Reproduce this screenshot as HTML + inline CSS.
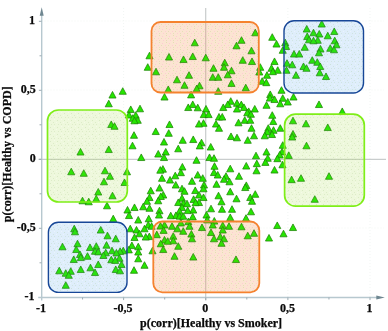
<!DOCTYPE html><html><head><meta charset="utf-8"><title>plot</title><style>html,body{margin:0;padding:0;background:#fff}svg{display:block}</style></head><body><svg width="388" height="331" viewBox="0 0 388 331">
<rect width="388" height="331" fill="#fff"/>
<defs><pattern id="dz" width="7" height="7" patternUnits="userSpaceOnUse"><rect x="1" y="1" width="1" height="1" fill="#ff9fe0" opacity="0.35"/><rect x="4" y="3" width="1" height="1" fill="#ff9fe0" opacity="0.3"/><rect x="2" y="5" width="1" height="1" fill="#ff9fe0" opacity="0.3"/><rect x="5" y="0" width="1" height="1" fill="#b8e08a" opacity="0.4"/><rect x="0" y="3" width="1" height="1" fill="#b8e08a" opacity="0.35"/><rect x="5" y="5" width="1" height="1" fill="#b8e08a" opacity="0.35"/></pattern><pattern id="dg" width="7" height="7" patternUnits="userSpaceOnUse"><rect x="1" y="1" width="1" height="1" fill="#a8c890" opacity="0.3"/><rect x="4" y="3" width="1" height="1" fill="#a8c890" opacity="0.25"/><rect x="2" y="5" width="1" height="1" fill="#a8c890" opacity="0.25"/><rect x="5" y="0" width="1" height="1" fill="#ffffff" opacity="0.5"/><rect x="0" y="3" width="1" height="1" fill="#ffffff" opacity="0.5"/><rect x="5" y="5" width="1" height="1" fill="#a8c890" opacity="0.25"/></pattern></defs>
<line x1="123.62" y1="8" x2="123.62" y2="297.0" stroke="#f1f5f3" stroke-width="1" stroke-dasharray="1 2"/>
<line x1="287.88" y1="8" x2="287.88" y2="297.0" stroke="#f1f5f3" stroke-width="1" stroke-dasharray="1 2"/>
<line x1="370.00" y1="8" x2="370.00" y2="297.0" stroke="#f1f5f3" stroke-width="1" stroke-dasharray="1 2"/>
<line x1="41.5" y1="228.00" x2="384" y2="228.00" stroke="#f1f5f3" stroke-width="1" stroke-dasharray="1 2"/>
<line x1="41.5" y1="90.00" x2="384" y2="90.00" stroke="#f1f5f3" stroke-width="1" stroke-dasharray="1 2"/>
<line x1="41.5" y1="21.00" x2="384" y2="21.00" stroke="#f1f5f3" stroke-width="1" stroke-dasharray="1 2"/>
<line x1="205.75" y1="8" x2="205.75" y2="300.5" stroke="#bcc1c1" stroke-width="1"/>
<line x1="38.5" y1="159.30" x2="386" y2="159.30" stroke="#bcc1c1" stroke-width="1"/>
<line x1="41.7" y1="14" x2="41.7" y2="300.5" stroke="#b7c8cf" stroke-width="1.4"/>
<line x1="38.2" y1="297.5" x2="378" y2="297.5" stroke="#b7c8cf" stroke-width="1.4"/>
<polygon points="41.7,7.3 39.7,15.8 43.7,15.8" fill="#6f8791"/>
<polygon points="384.8,297.5 376.3,295.5 376.3,299.5" fill="#6f8791"/>
<line x1="82.56" y1="297.5" x2="82.56" y2="299.5" stroke="#93a3aa" stroke-width="0.9"/>
<line x1="39.5" y1="262.80" x2="41.5" y2="262.80" stroke="#93a3aa" stroke-width="0.9"/>
<line x1="123.62" y1="297.5" x2="123.62" y2="300.1" stroke="#93a3aa" stroke-width="0.9"/>
<line x1="38.9" y1="228.30" x2="41.5" y2="228.30" stroke="#93a3aa" stroke-width="0.9"/>
<line x1="164.69" y1="297.5" x2="164.69" y2="299.5" stroke="#93a3aa" stroke-width="0.9"/>
<line x1="39.5" y1="193.80" x2="41.5" y2="193.80" stroke="#93a3aa" stroke-width="0.9"/>
<line x1="205.75" y1="297.5" x2="205.75" y2="300.1" stroke="#93a3aa" stroke-width="0.9"/>
<line x1="38.9" y1="159.30" x2="41.5" y2="159.30" stroke="#93a3aa" stroke-width="0.9"/>
<line x1="246.81" y1="297.5" x2="246.81" y2="299.5" stroke="#93a3aa" stroke-width="0.9"/>
<line x1="39.5" y1="124.80" x2="41.5" y2="124.80" stroke="#93a3aa" stroke-width="0.9"/>
<line x1="287.88" y1="297.5" x2="287.88" y2="300.1" stroke="#93a3aa" stroke-width="0.9"/>
<line x1="38.9" y1="90.30" x2="41.5" y2="90.30" stroke="#93a3aa" stroke-width="0.9"/>
<line x1="328.94" y1="297.5" x2="328.94" y2="299.5" stroke="#93a3aa" stroke-width="0.9"/>
<line x1="39.5" y1="55.80" x2="41.5" y2="55.80" stroke="#93a3aa" stroke-width="0.9"/>
<line x1="370.00" y1="297.5" x2="370.00" y2="300.1" stroke="#93a3aa" stroke-width="0.9"/>
<line x1="38.9" y1="21.30" x2="41.5" y2="21.30" stroke="#93a3aa" stroke-width="0.9"/>
<rect x="151.5" y="22" width="107.30" height="70.50" rx="9" ry="9" fill="rgba(245,135,62,0.17)"/>
<rect x="151.5" y="22" width="107.30" height="70.50" rx="9" ry="9" fill="url(#dz)"/>
<rect x="153.3" y="221.5" width="106.00" height="70.80" rx="9" ry="9" fill="rgba(245,135,62,0.17)"/>
<rect x="153.3" y="221.5" width="106.00" height="70.80" rx="9" ry="9" fill="url(#dz)"/>
<rect x="284" y="20.8" width="79.50" height="72.20" rx="10" ry="10" fill="rgba(120,185,240,0.17)"/>
<rect x="284" y="20.8" width="79.50" height="72.20" rx="10" ry="10" fill="url(#dg)"/>
<rect x="48.4" y="222.3" width="78.60" height="70.10" rx="10" ry="10" fill="rgba(120,185,240,0.17)"/>
<rect x="48.4" y="222.3" width="78.60" height="70.10" rx="10" ry="10" fill="url(#dg)"/>
<rect x="47.5" y="110" width="79.80" height="92.00" rx="11" ry="11" fill="rgba(185,225,105,0.17)"/>
<rect x="47.5" y="110" width="79.80" height="92.00" rx="11" ry="11" fill="url(#dg)"/>
<rect x="284.6" y="114.1" width="79.70" height="92.10" rx="11" ry="11" fill="rgba(185,225,105,0.17)"/>
<rect x="284.6" y="114.1" width="79.70" height="92.10" rx="11" ry="11" fill="url(#dg)"/>
<polygon points="321.75,20.45 318.20,27.05 325.30,27.05" fill="#25e600" stroke="#1d8406" stroke-width="0.75" stroke-linejoin="round"/>
<polygon points="306.75,25.45 303.20,32.05 310.30,32.05" fill="#25e600" stroke="#1d8406" stroke-width="0.75" stroke-linejoin="round"/>
<polygon points="334.25,27.95 330.70,34.55 337.80,34.55" fill="#25e600" stroke="#1d8406" stroke-width="0.75" stroke-linejoin="round"/>
<polygon points="255.25,29.20 251.70,35.80 258.80,35.80" fill="#25e600" stroke="#1d8406" stroke-width="0.75" stroke-linejoin="round"/>
<polygon points="313.50,29.20 309.95,35.80 317.05,35.80" fill="#25e600" stroke="#1d8406" stroke-width="0.75" stroke-linejoin="round"/>
<polygon points="319.25,30.45 315.70,37.05 322.80,37.05" fill="#25e600" stroke="#1d8406" stroke-width="0.75" stroke-linejoin="round"/>
<polygon points="327.75,32.20 324.20,38.80 331.30,38.80" fill="#25e600" stroke="#1d8406" stroke-width="0.75" stroke-linejoin="round"/>
<polygon points="307.25,32.95 303.70,39.55 310.80,39.55" fill="#25e600" stroke="#1d8406" stroke-width="0.75" stroke-linejoin="round"/>
<polygon points="272.25,33.70 268.70,40.30 275.80,40.30" fill="#25e600" stroke="#1d8406" stroke-width="0.75" stroke-linejoin="round"/>
<polygon points="309.00,36.20 305.45,42.80 312.55,42.80" fill="#25e600" stroke="#1d8406" stroke-width="0.75" stroke-linejoin="round"/>
<polygon points="241.50,36.70 237.95,43.30 245.05,43.30" fill="#25e600" stroke="#1d8406" stroke-width="0.75" stroke-linejoin="round"/>
<polygon points="317.75,36.70 314.20,43.30 321.30,43.30" fill="#25e600" stroke="#1d8406" stroke-width="0.75" stroke-linejoin="round"/>
<polygon points="313.50,37.20 309.95,43.80 317.05,43.80" fill="#25e600" stroke="#1d8406" stroke-width="0.75" stroke-linejoin="round"/>
<polygon points="334.75,37.20 331.20,43.80 338.30,43.80" fill="#25e600" stroke="#1d8406" stroke-width="0.75" stroke-linejoin="round"/>
<polygon points="194.75,39.20 191.20,45.80 198.30,45.80" fill="#25e600" stroke="#1d8406" stroke-width="0.75" stroke-linejoin="round"/>
<polygon points="285.25,39.20 281.70,45.80 288.80,45.80" fill="#25e600" stroke="#1d8406" stroke-width="0.75" stroke-linejoin="round"/>
<polygon points="276.50,40.45 272.95,47.05 280.05,47.05" fill="#25e600" stroke="#1d8406" stroke-width="0.75" stroke-linejoin="round"/>
<polygon points="336.50,41.20 332.95,47.80 340.05,47.80" fill="#25e600" stroke="#1d8406" stroke-width="0.75" stroke-linejoin="round"/>
<polygon points="236.50,42.20 232.95,48.80 240.05,48.80" fill="#25e600" stroke="#1d8406" stroke-width="0.75" stroke-linejoin="round"/>
<polygon points="286.10,42.90 282.55,49.50 289.65,49.50" fill="#25e600" stroke="#1d8406" stroke-width="0.75" stroke-linejoin="round"/>
<polygon points="304.75,43.70 301.20,50.30 308.30,50.30" fill="#25e600" stroke="#1d8406" stroke-width="0.75" stroke-linejoin="round"/>
<polygon points="330.25,44.70 326.70,51.30 333.80,51.30" fill="#25e600" stroke="#1d8406" stroke-width="0.75" stroke-linejoin="round"/>
<polygon points="320.50,45.45 316.95,52.05 324.05,52.05" fill="#25e600" stroke="#1d8406" stroke-width="0.75" stroke-linejoin="round"/>
<polygon points="334.00,46.20 330.45,52.80 337.55,52.80" fill="#25e600" stroke="#1d8406" stroke-width="0.75" stroke-linejoin="round"/>
<polygon points="282.75,46.70 279.20,53.30 286.30,53.30" fill="#25e600" stroke="#1d8406" stroke-width="0.75" stroke-linejoin="round"/>
<polygon points="251.50,47.20 247.95,53.80 255.05,53.80" fill="#25e600" stroke="#1d8406" stroke-width="0.75" stroke-linejoin="round"/>
<polygon points="319.00,49.20 315.45,55.80 322.55,55.80" fill="#25e600" stroke="#1d8406" stroke-width="0.75" stroke-linejoin="round"/>
<polygon points="294.00,50.45 290.45,57.05 297.55,57.05" fill="#25e600" stroke="#1d8406" stroke-width="0.75" stroke-linejoin="round"/>
<polygon points="299.25,50.45 295.70,57.05 302.80,57.05" fill="#25e600" stroke="#1d8406" stroke-width="0.75" stroke-linejoin="round"/>
<polygon points="149.50,52.20 145.95,58.80 153.05,58.80" fill="#25e600" stroke="#1d8406" stroke-width="0.75" stroke-linejoin="round"/>
<polygon points="192.75,52.95 189.20,59.55 196.30,59.55" fill="#25e600" stroke="#1d8406" stroke-width="0.75" stroke-linejoin="round"/>
<polygon points="169.00,53.45 165.45,60.05 172.55,60.05" fill="#25e600" stroke="#1d8406" stroke-width="0.75" stroke-linejoin="round"/>
<polygon points="205.75,54.20 202.20,60.80 209.30,60.80" fill="#25e600" stroke="#1d8406" stroke-width="0.75" stroke-linejoin="round"/>
<polygon points="183.50,55.95 179.95,62.55 187.05,62.55" fill="#25e600" stroke="#1d8406" stroke-width="0.75" stroke-linejoin="round"/>
<polygon points="242.75,56.70 239.20,63.30 246.30,63.30" fill="#25e600" stroke="#1d8406" stroke-width="0.75" stroke-linejoin="round"/>
<polygon points="312.25,56.70 308.70,63.30 315.80,63.30" fill="#25e600" stroke="#1d8406" stroke-width="0.75" stroke-linejoin="round"/>
<polygon points="252.00,57.95 248.45,64.55 255.55,64.55" fill="#25e600" stroke="#1d8406" stroke-width="0.75" stroke-linejoin="round"/>
<polygon points="274.50,57.95 270.95,64.55 278.05,64.55" fill="#25e600" stroke="#1d8406" stroke-width="0.75" stroke-linejoin="round"/>
<polygon points="317.25,58.70 313.70,65.30 320.80,65.30" fill="#25e600" stroke="#1d8406" stroke-width="0.75" stroke-linejoin="round"/>
<polygon points="224.75,59.20 221.20,65.80 228.30,65.80" fill="#25e600" stroke="#1d8406" stroke-width="0.75" stroke-linejoin="round"/>
<polygon points="287.00,59.70 283.45,66.30 290.55,66.30" fill="#25e600" stroke="#1d8406" stroke-width="0.75" stroke-linejoin="round"/>
<polygon points="292.25,61.20 288.70,67.80 295.80,67.80" fill="#25e600" stroke="#1d8406" stroke-width="0.75" stroke-linejoin="round"/>
<polygon points="303.50,62.95 299.95,69.55 307.05,69.55" fill="#25e600" stroke="#1d8406" stroke-width="0.75" stroke-linejoin="round"/>
<polygon points="320.25,62.95 316.70,69.55 323.80,69.55" fill="#25e600" stroke="#1d8406" stroke-width="0.75" stroke-linejoin="round"/>
<polygon points="147.75,63.70 144.20,70.30 151.30,70.30" fill="#25e600" stroke="#1d8406" stroke-width="0.75" stroke-linejoin="round"/>
<polygon points="224.00,63.70 220.45,70.30 227.55,70.30" fill="#25e600" stroke="#1d8406" stroke-width="0.75" stroke-linejoin="round"/>
<polygon points="260.25,63.70 256.70,70.30 263.80,70.30" fill="#25e600" stroke="#1d8406" stroke-width="0.75" stroke-linejoin="round"/>
<polygon points="213.50,64.70 209.95,71.30 217.05,71.30" fill="#25e600" stroke="#1d8406" stroke-width="0.75" stroke-linejoin="round"/>
<polygon points="271.50,64.70 267.95,71.30 275.05,71.30" fill="#25e600" stroke="#1d8406" stroke-width="0.75" stroke-linejoin="round"/>
<polygon points="306.50,64.70 302.95,71.30 310.05,71.30" fill="#25e600" stroke="#1d8406" stroke-width="0.75" stroke-linejoin="round"/>
<polygon points="277.75,66.70 274.20,73.30 281.30,73.30" fill="#25e600" stroke="#1d8406" stroke-width="0.75" stroke-linejoin="round"/>
<polygon points="286.50,66.70 282.95,73.30 290.05,73.30" fill="#25e600" stroke="#1d8406" stroke-width="0.75" stroke-linejoin="round"/>
<polygon points="231.50,67.20 227.95,73.80 235.05,73.80" fill="#25e600" stroke="#1d8406" stroke-width="0.75" stroke-linejoin="round"/>
<polygon points="272.90,68.10 269.35,74.70 276.45,74.70" fill="#25e600" stroke="#1d8406" stroke-width="0.75" stroke-linejoin="round"/>
<polygon points="156.00,68.20 152.45,74.80 159.55,74.80" fill="#25e600" stroke="#1d8406" stroke-width="0.75" stroke-linejoin="round"/>
<polygon points="259.30,68.40 255.75,75.00 262.85,75.00" fill="#25e600" stroke="#1d8406" stroke-width="0.75" stroke-linejoin="round"/>
<polygon points="319.75,69.20 316.20,75.80 323.30,75.80" fill="#25e600" stroke="#1d8406" stroke-width="0.75" stroke-linejoin="round"/>
<polygon points="227.75,71.20 224.20,77.80 231.30,77.80" fill="#25e600" stroke="#1d8406" stroke-width="0.75" stroke-linejoin="round"/>
<polygon points="189.00,71.70 185.45,78.30 192.55,78.30" fill="#25e600" stroke="#1d8406" stroke-width="0.75" stroke-linejoin="round"/>
<polygon points="267.00,71.70 263.45,78.30 270.55,78.30" fill="#25e600" stroke="#1d8406" stroke-width="0.75" stroke-linejoin="round"/>
<polygon points="296.00,71.70 292.45,78.30 299.55,78.30" fill="#25e600" stroke="#1d8406" stroke-width="0.75" stroke-linejoin="round"/>
<polygon points="326.00,72.95 322.45,79.55 329.55,79.55" fill="#25e600" stroke="#1d8406" stroke-width="0.75" stroke-linejoin="round"/>
<polygon points="212.75,73.70 209.20,80.30 216.30,80.30" fill="#25e600" stroke="#1d8406" stroke-width="0.75" stroke-linejoin="round"/>
<polygon points="218.25,73.70 214.70,80.30 221.80,80.30" fill="#25e600" stroke="#1d8406" stroke-width="0.75" stroke-linejoin="round"/>
<polygon points="177.00,76.20 173.45,82.80 180.55,82.80" fill="#25e600" stroke="#1d8406" stroke-width="0.75" stroke-linejoin="round"/>
<polygon points="262.20,77.70 258.65,84.30 265.75,84.30" fill="#25e600" stroke="#1d8406" stroke-width="0.75" stroke-linejoin="round"/>
<polygon points="266.30,79.10 262.75,85.70 269.85,85.70" fill="#25e600" stroke="#1d8406" stroke-width="0.75" stroke-linejoin="round"/>
<polygon points="231.50,79.83 227.95,86.42 235.05,86.42" fill="#25e600" stroke="#1d8406" stroke-width="0.75" stroke-linejoin="round"/>
<polygon points="184.50,81.70 180.95,88.30 188.05,88.30" fill="#25e600" stroke="#1d8406" stroke-width="0.75" stroke-linejoin="round"/>
<polygon points="199.50,82.20 195.95,88.80 203.05,88.80" fill="#25e600" stroke="#1d8406" stroke-width="0.75" stroke-linejoin="round"/>
<polygon points="245.75,84.20 242.20,90.80 249.30,90.80" fill="#25e600" stroke="#1d8406" stroke-width="0.75" stroke-linejoin="round"/>
<polygon points="196.70,85.10 193.15,91.70 200.25,91.70" fill="#25e600" stroke="#1d8406" stroke-width="0.75" stroke-linejoin="round"/>
<polygon points="168.25,85.95 164.70,92.55 171.80,92.55" fill="#25e600" stroke="#1d8406" stroke-width="0.75" stroke-linejoin="round"/>
<polygon points="281.50,86.70 277.95,93.30 285.05,93.30" fill="#25e600" stroke="#1d8406" stroke-width="0.75" stroke-linejoin="round"/>
<polygon points="122.75,87.70 119.20,94.30 126.30,94.30" fill="#25e600" stroke="#1d8406" stroke-width="0.75" stroke-linejoin="round"/>
<polygon points="218.25,87.70 214.70,94.30 221.80,94.30" fill="#25e600" stroke="#1d8406" stroke-width="0.75" stroke-linejoin="round"/>
<polygon points="270.25,90.95 266.70,97.55 273.80,97.55" fill="#25e600" stroke="#1d8406" stroke-width="0.75" stroke-linejoin="round"/>
<polygon points="191.10,91.30 187.55,97.90 194.65,97.90" fill="#25e600" stroke="#1d8406" stroke-width="0.75" stroke-linejoin="round"/>
<polygon points="112.50,91.45 108.95,98.05 116.05,98.05" fill="#25e600" stroke="#1d8406" stroke-width="0.75" stroke-linejoin="round"/>
<polygon points="164.50,93.45 160.95,100.05 168.05,100.05" fill="#25e600" stroke="#1d8406" stroke-width="0.75" stroke-linejoin="round"/>
<polygon points="293.50,93.45 289.95,100.05 297.05,100.05" fill="#25e600" stroke="#1d8406" stroke-width="0.75" stroke-linejoin="round"/>
<polygon points="269.90,94.50 266.35,101.10 273.45,101.10" fill="#25e600" stroke="#1d8406" stroke-width="0.75" stroke-linejoin="round"/>
<polygon points="282.75,94.70 279.20,101.30 286.30,101.30" fill="#25e600" stroke="#1d8406" stroke-width="0.75" stroke-linejoin="round"/>
<polygon points="274.50,95.95 270.95,102.55 278.05,102.55" fill="#25e600" stroke="#1d8406" stroke-width="0.75" stroke-linejoin="round"/>
<polygon points="230.75,97.70 227.20,104.30 234.30,104.30" fill="#25e600" stroke="#1d8406" stroke-width="0.75" stroke-linejoin="round"/>
<polygon points="287.75,98.45 284.20,105.05 291.30,105.05" fill="#25e600" stroke="#1d8406" stroke-width="0.75" stroke-linejoin="round"/>
<polygon points="237.00,99.70 233.45,106.30 240.55,106.30" fill="#25e600" stroke="#1d8406" stroke-width="0.75" stroke-linejoin="round"/>
<polygon points="108.75,100.20 105.20,106.80 112.30,106.80" fill="#25e600" stroke="#1d8406" stroke-width="0.75" stroke-linejoin="round"/>
<polygon points="280.25,100.20 276.70,106.80 283.80,106.80" fill="#25e600" stroke="#1d8406" stroke-width="0.75" stroke-linejoin="round"/>
<polygon points="192.75,100.95 189.20,107.55 196.30,107.55" fill="#25e600" stroke="#1d8406" stroke-width="0.75" stroke-linejoin="round"/>
<polygon points="227.75,100.95 224.20,107.55 231.30,107.55" fill="#25e600" stroke="#1d8406" stroke-width="0.75" stroke-linejoin="round"/>
<polygon points="319.00,100.95 315.45,107.55 322.55,107.55" fill="#25e600" stroke="#1d8406" stroke-width="0.75" stroke-linejoin="round"/>
<polygon points="241.30,101.10 237.75,107.70 244.85,107.70" fill="#25e600" stroke="#1d8406" stroke-width="0.75" stroke-linejoin="round"/>
<polygon points="266.50,101.70 262.95,108.30 270.05,108.30" fill="#25e600" stroke="#1d8406" stroke-width="0.75" stroke-linejoin="round"/>
<polygon points="244.00,103.90 240.45,110.50 247.55,110.50" fill="#25e600" stroke="#1d8406" stroke-width="0.75" stroke-linejoin="round"/>
<polygon points="188.25,103.95 184.70,110.55 191.80,110.55" fill="#25e600" stroke="#1d8406" stroke-width="0.75" stroke-linejoin="round"/>
<polygon points="223.25,103.95 219.70,110.55 226.80,110.55" fill="#25e600" stroke="#1d8406" stroke-width="0.75" stroke-linejoin="round"/>
<polygon points="197.75,104.20 194.20,110.80 201.30,110.80" fill="#25e600" stroke="#1d8406" stroke-width="0.75" stroke-linejoin="round"/>
<polygon points="140.00,105.20 136.45,111.80 143.55,111.80" fill="#25e600" stroke="#1d8406" stroke-width="0.75" stroke-linejoin="round"/>
<polygon points="206.00,105.45 202.45,112.05 209.55,112.05" fill="#25e600" stroke="#1d8406" stroke-width="0.75" stroke-linejoin="round"/>
<polygon points="237.00,105.45 233.45,112.05 240.55,112.05" fill="#25e600" stroke="#1d8406" stroke-width="0.75" stroke-linejoin="round"/>
<polygon points="254.75,105.45 251.20,112.05 258.30,112.05" fill="#25e600" stroke="#1d8406" stroke-width="0.75" stroke-linejoin="round"/>
<polygon points="130.75,105.95 127.20,112.55 134.30,112.55" fill="#25e600" stroke="#1d8406" stroke-width="0.75" stroke-linejoin="round"/>
<polygon points="248.70,107.90 245.15,114.50 252.25,114.50" fill="#25e600" stroke="#1d8406" stroke-width="0.75" stroke-linejoin="round"/>
<polygon points="342.25,107.95 338.70,114.55 345.80,114.55" fill="#25e600" stroke="#1d8406" stroke-width="0.75" stroke-linejoin="round"/>
<polygon points="247.25,109.20 243.70,115.80 250.80,115.80" fill="#25e600" stroke="#1d8406" stroke-width="0.75" stroke-linejoin="round"/>
<polygon points="250.90,110.70 247.35,117.30 254.45,117.30" fill="#25e600" stroke="#1d8406" stroke-width="0.75" stroke-linejoin="round"/>
<polygon points="203.80,111.00 200.25,117.60 207.35,117.60" fill="#25e600" stroke="#1d8406" stroke-width="0.75" stroke-linejoin="round"/>
<polygon points="208.60,111.00 205.05,117.60 212.15,117.60" fill="#25e600" stroke="#1d8406" stroke-width="0.75" stroke-linejoin="round"/>
<polygon points="129.00,111.45 125.45,118.05 132.55,118.05" fill="#25e600" stroke="#1d8406" stroke-width="0.75" stroke-linejoin="round"/>
<polygon points="135.75,111.70 132.20,118.30 139.30,118.30" fill="#25e600" stroke="#1d8406" stroke-width="0.75" stroke-linejoin="round"/>
<polygon points="272.25,111.70 268.70,118.30 275.80,118.30" fill="#25e600" stroke="#1d8406" stroke-width="0.75" stroke-linejoin="round"/>
<polygon points="219.00,113.45 215.45,120.05 222.55,120.05" fill="#25e600" stroke="#1d8406" stroke-width="0.75" stroke-linejoin="round"/>
<polygon points="222.25,113.45 218.70,120.05 225.80,120.05" fill="#25e600" stroke="#1d8406" stroke-width="0.75" stroke-linejoin="round"/>
<polygon points="132.75,114.70 129.20,121.30 136.30,121.30" fill="#25e600" stroke="#1d8406" stroke-width="0.75" stroke-linejoin="round"/>
<polygon points="137.75,116.70 134.20,123.30 141.30,123.30" fill="#25e600" stroke="#1d8406" stroke-width="0.75" stroke-linejoin="round"/>
<polygon points="244.75,116.70 241.20,123.30 248.30,123.30" fill="#25e600" stroke="#1d8406" stroke-width="0.75" stroke-linejoin="round"/>
<polygon points="250.25,116.70 246.70,123.30 253.80,123.30" fill="#25e600" stroke="#1d8406" stroke-width="0.75" stroke-linejoin="round"/>
<polygon points="134.50,117.20 130.95,123.80 138.05,123.80" fill="#25e600" stroke="#1d8406" stroke-width="0.75" stroke-linejoin="round"/>
<polygon points="293.00,117.20 289.45,123.80 296.55,123.80" fill="#25e600" stroke="#1d8406" stroke-width="0.75" stroke-linejoin="round"/>
<polygon points="273.25,117.95 269.70,124.55 276.80,124.55" fill="#25e600" stroke="#1d8406" stroke-width="0.75" stroke-linejoin="round"/>
<polygon points="238.50,119.20 234.95,125.80 242.05,125.80" fill="#25e600" stroke="#1d8406" stroke-width="0.75" stroke-linejoin="round"/>
<polygon points="203.50,119.70 199.95,126.30 207.05,126.30" fill="#25e600" stroke="#1d8406" stroke-width="0.75" stroke-linejoin="round"/>
<polygon points="306.00,120.20 302.45,126.80 309.55,126.80" fill="#25e600" stroke="#1d8406" stroke-width="0.75" stroke-linejoin="round"/>
<polygon points="199.00,120.45 195.45,127.05 202.55,127.05" fill="#25e600" stroke="#1d8406" stroke-width="0.75" stroke-linejoin="round"/>
<polygon points="216.00,120.45 212.45,127.05 219.55,127.05" fill="#25e600" stroke="#1d8406" stroke-width="0.75" stroke-linejoin="round"/>
<polygon points="111.25,120.95 107.70,127.55 114.80,127.55" fill="#25e600" stroke="#1d8406" stroke-width="0.75" stroke-linejoin="round"/>
<polygon points="169.50,120.95 165.95,127.55 173.05,127.55" fill="#25e600" stroke="#1d8406" stroke-width="0.75" stroke-linejoin="round"/>
<polygon points="114.50,122.70 110.95,129.30 118.05,129.30" fill="#25e600" stroke="#1d8406" stroke-width="0.75" stroke-linejoin="round"/>
<polygon points="327.75,123.95 324.20,130.55 331.30,130.55" fill="#25e600" stroke="#1d8406" stroke-width="0.75" stroke-linejoin="round"/>
<polygon points="219.00,124.70 215.45,131.30 222.55,131.30" fill="#25e600" stroke="#1d8406" stroke-width="0.75" stroke-linejoin="round"/>
<polygon points="251.50,124.70 247.95,131.30 255.05,131.30" fill="#25e600" stroke="#1d8406" stroke-width="0.75" stroke-linejoin="round"/>
<polygon points="268.25,124.70 264.70,131.30 271.80,131.30" fill="#25e600" stroke="#1d8406" stroke-width="0.75" stroke-linejoin="round"/>
<polygon points="280.25,124.70 276.70,131.30 283.80,131.30" fill="#25e600" stroke="#1d8406" stroke-width="0.75" stroke-linejoin="round"/>
<polygon points="273.50,126.70 269.95,133.30 277.05,133.30" fill="#25e600" stroke="#1d8406" stroke-width="0.75" stroke-linejoin="round"/>
<polygon points="155.75,127.95 152.20,134.55 159.30,134.55" fill="#25e600" stroke="#1d8406" stroke-width="0.75" stroke-linejoin="round"/>
<polygon points="267.25,128.45 263.70,135.05 270.80,135.05" fill="#25e600" stroke="#1d8406" stroke-width="0.75" stroke-linejoin="round"/>
<polygon points="168.75,129.70 165.20,136.30 172.30,136.30" fill="#25e600" stroke="#1d8406" stroke-width="0.75" stroke-linejoin="round"/>
<polygon points="293.00,130.45 289.45,137.05 296.55,137.05" fill="#25e600" stroke="#1d8406" stroke-width="0.75" stroke-linejoin="round"/>
<polygon points="272.00,130.95 268.45,137.55 275.55,137.55" fill="#25e600" stroke="#1d8406" stroke-width="0.75" stroke-linejoin="round"/>
<polygon points="134.00,131.70 130.45,138.30 137.55,138.30" fill="#25e600" stroke="#1d8406" stroke-width="0.75" stroke-linejoin="round"/>
<polygon points="254.00,132.20 250.45,138.80 257.55,138.80" fill="#25e600" stroke="#1d8406" stroke-width="0.75" stroke-linejoin="round"/>
<polygon points="264.75,132.20 261.20,138.80 268.30,138.80" fill="#25e600" stroke="#1d8406" stroke-width="0.75" stroke-linejoin="round"/>
<polygon points="231.00,132.95 227.45,139.55 234.55,139.55" fill="#25e600" stroke="#1d8406" stroke-width="0.75" stroke-linejoin="round"/>
<polygon points="292.25,133.45 288.70,140.05 295.80,140.05" fill="#25e600" stroke="#1d8406" stroke-width="0.75" stroke-linejoin="round"/>
<polygon points="237.00,134.20 233.45,140.80 240.55,140.80" fill="#25e600" stroke="#1d8406" stroke-width="0.75" stroke-linejoin="round"/>
<polygon points="193.25,135.95 189.70,142.55 196.80,142.55" fill="#25e600" stroke="#1d8406" stroke-width="0.75" stroke-linejoin="round"/>
<polygon points="182.75,136.70 179.20,143.30 186.30,143.30" fill="#25e600" stroke="#1d8406" stroke-width="0.75" stroke-linejoin="round"/>
<polygon points="247.75,136.70 244.20,143.30 251.30,143.30" fill="#25e600" stroke="#1d8406" stroke-width="0.75" stroke-linejoin="round"/>
<polygon points="164.00,138.45 160.45,145.05 167.55,145.05" fill="#25e600" stroke="#1d8406" stroke-width="0.75" stroke-linejoin="round"/>
<polygon points="201.50,139.20 197.95,145.80 205.05,145.80" fill="#25e600" stroke="#1d8406" stroke-width="0.75" stroke-linejoin="round"/>
<polygon points="282.75,141.70 279.20,148.30 286.30,148.30" fill="#25e600" stroke="#1d8406" stroke-width="0.75" stroke-linejoin="round"/>
<polygon points="132.50,142.20 128.95,148.80 136.05,148.80" fill="#25e600" stroke="#1d8406" stroke-width="0.75" stroke-linejoin="round"/>
<polygon points="306.50,142.20 302.95,148.80 310.05,148.80" fill="#25e600" stroke="#1d8406" stroke-width="0.75" stroke-linejoin="round"/>
<polygon points="199.80,142.30 196.25,148.90 203.35,148.90" fill="#25e600" stroke="#1d8406" stroke-width="0.75" stroke-linejoin="round"/>
<polygon points="210.75,143.45 207.20,150.05 214.30,150.05" fill="#25e600" stroke="#1d8406" stroke-width="0.75" stroke-linejoin="round"/>
<polygon points="178.25,145.20 174.70,151.80 181.80,151.80" fill="#25e600" stroke="#1d8406" stroke-width="0.75" stroke-linejoin="round"/>
<polygon points="108.75,145.95 105.20,152.55 112.30,152.55" fill="#25e600" stroke="#1d8406" stroke-width="0.75" stroke-linejoin="round"/>
<polygon points="282.10,148.30 278.55,154.90 285.65,154.90" fill="#25e600" stroke="#1d8406" stroke-width="0.75" stroke-linejoin="round"/>
<polygon points="80.50,148.45 76.95,155.05 84.05,155.05" fill="#25e600" stroke="#1d8406" stroke-width="0.75" stroke-linejoin="round"/>
<polygon points="165.75,148.45 162.20,155.05 169.30,155.05" fill="#25e600" stroke="#1d8406" stroke-width="0.75" stroke-linejoin="round"/>
<polygon points="266.50,148.45 262.95,155.05 270.05,155.05" fill="#25e600" stroke="#1d8406" stroke-width="0.75" stroke-linejoin="round"/>
<polygon points="158.25,150.45 154.70,157.05 161.80,157.05" fill="#25e600" stroke="#1d8406" stroke-width="0.75" stroke-linejoin="round"/>
<polygon points="279.70,151.40 276.15,158.00 283.25,158.00" fill="#25e600" stroke="#1d8406" stroke-width="0.75" stroke-linejoin="round"/>
<polygon points="288.75,151.82 285.20,158.43 292.30,158.43" fill="#25e600" stroke="#1d8406" stroke-width="0.75" stroke-linejoin="round"/>
<polygon points="256.00,152.20 252.45,158.80 259.55,158.80" fill="#25e600" stroke="#1d8406" stroke-width="0.75" stroke-linejoin="round"/>
<polygon points="141.25,153.95 137.70,160.55 144.80,160.55" fill="#25e600" stroke="#1d8406" stroke-width="0.75" stroke-linejoin="round"/>
<polygon points="164.00,153.95 160.45,160.55 167.55,160.55" fill="#25e600" stroke="#1d8406" stroke-width="0.75" stroke-linejoin="round"/>
<polygon points="209.50,153.95 205.95,160.55 213.05,160.55" fill="#25e600" stroke="#1d8406" stroke-width="0.75" stroke-linejoin="round"/>
<polygon points="214.00,154.70 210.45,161.30 217.55,161.30" fill="#25e600" stroke="#1d8406" stroke-width="0.75" stroke-linejoin="round"/>
<polygon points="267.75,154.70 264.20,161.30 271.30,161.30" fill="#25e600" stroke="#1d8406" stroke-width="0.75" stroke-linejoin="round"/>
<polygon points="277.40,155.10 273.85,161.70 280.95,161.70" fill="#25e600" stroke="#1d8406" stroke-width="0.75" stroke-linejoin="round"/>
<polygon points="196.50,156.70 192.95,163.30 200.05,163.30" fill="#25e600" stroke="#1d8406" stroke-width="0.75" stroke-linejoin="round"/>
<polygon points="265.40,158.80 261.85,165.40 268.95,165.40" fill="#25e600" stroke="#1d8406" stroke-width="0.75" stroke-linejoin="round"/>
<polygon points="256.80,160.10 253.25,166.70 260.35,166.70" fill="#25e600" stroke="#1d8406" stroke-width="0.75" stroke-linejoin="round"/>
<polygon points="282.50,161.20 278.95,167.80 286.05,167.80" fill="#25e600" stroke="#1d8406" stroke-width="0.75" stroke-linejoin="round"/>
<polygon points="246.25,162.45 242.70,169.05 249.80,169.05" fill="#25e600" stroke="#1d8406" stroke-width="0.75" stroke-linejoin="round"/>
<polygon points="214.50,162.70 210.95,169.30 218.05,169.30" fill="#25e600" stroke="#1d8406" stroke-width="0.75" stroke-linejoin="round"/>
<polygon points="182.38,163.45 178.82,170.05 185.93,170.05" fill="#25e600" stroke="#1d8406" stroke-width="0.75" stroke-linejoin="round"/>
<polygon points="230.25,165.20 226.70,171.80 233.80,171.80" fill="#25e600" stroke="#1d8406" stroke-width="0.75" stroke-linejoin="round"/>
<polygon points="162.90,165.60 159.35,172.20 166.45,172.20" fill="#25e600" stroke="#1d8406" stroke-width="0.75" stroke-linejoin="round"/>
<polygon points="274.50,166.45 270.95,173.05 278.05,173.05" fill="#25e600" stroke="#1d8406" stroke-width="0.75" stroke-linejoin="round"/>
<polygon points="160.30,166.60 156.75,173.20 163.85,173.20" fill="#25e600" stroke="#1d8406" stroke-width="0.75" stroke-linejoin="round"/>
<polygon points="105.00,167.20 101.45,173.80 108.55,173.80" fill="#25e600" stroke="#1d8406" stroke-width="0.75" stroke-linejoin="round"/>
<polygon points="256.50,167.20 252.95,173.80 260.05,173.80" fill="#25e600" stroke="#1d8406" stroke-width="0.75" stroke-linejoin="round"/>
<polygon points="71.25,168.20 67.70,174.80 74.80,174.80" fill="#25e600" stroke="#1d8406" stroke-width="0.75" stroke-linejoin="round"/>
<polygon points="127.00,168.20 123.45,174.80 130.55,174.80" fill="#25e600" stroke="#1d8406" stroke-width="0.75" stroke-linejoin="round"/>
<polygon points="214.00,168.95 210.45,175.55 217.55,175.55" fill="#25e600" stroke="#1d8406" stroke-width="0.75" stroke-linejoin="round"/>
<polygon points="180.90,169.10 177.35,175.70 184.45,175.70" fill="#25e600" stroke="#1d8406" stroke-width="0.75" stroke-linejoin="round"/>
<polygon points="83.75,169.70 80.20,176.30 87.30,176.30" fill="#25e600" stroke="#1d8406" stroke-width="0.75" stroke-linejoin="round"/>
<polygon points="197.75,171.45 194.20,178.05 201.30,178.05" fill="#25e600" stroke="#1d8406" stroke-width="0.75" stroke-linejoin="round"/>
<polygon points="217.75,171.45 214.20,178.05 221.30,178.05" fill="#25e600" stroke="#1d8406" stroke-width="0.75" stroke-linejoin="round"/>
<polygon points="175.25,172.20 171.70,178.80 178.80,178.80" fill="#25e600" stroke="#1d8406" stroke-width="0.75" stroke-linejoin="round"/>
<polygon points="110.00,172.70 106.45,179.30 113.55,179.30" fill="#25e600" stroke="#1d8406" stroke-width="0.75" stroke-linejoin="round"/>
<polygon points="226.00,172.70 222.45,179.30 229.55,179.30" fill="#25e600" stroke="#1d8406" stroke-width="0.75" stroke-linejoin="round"/>
<polygon points="239.00,172.70 235.45,179.30 242.55,179.30" fill="#25e600" stroke="#1d8406" stroke-width="0.75" stroke-linejoin="round"/>
<polygon points="329.00,172.70 325.45,179.30 332.55,179.30" fill="#25e600" stroke="#1d8406" stroke-width="0.75" stroke-linejoin="round"/>
<polygon points="162.00,174.70 158.45,181.30 165.55,181.30" fill="#25e600" stroke="#1d8406" stroke-width="0.75" stroke-linejoin="round"/>
<polygon points="202.75,174.70 199.20,181.30 206.30,181.30" fill="#25e600" stroke="#1d8406" stroke-width="0.75" stroke-linejoin="round"/>
<polygon points="301.00,174.70 297.45,181.30 304.55,181.30" fill="#25e600" stroke="#1d8406" stroke-width="0.75" stroke-linejoin="round"/>
<polygon points="224.00,175.70 220.45,182.30 227.55,182.30" fill="#25e600" stroke="#1d8406" stroke-width="0.75" stroke-linejoin="round"/>
<polygon points="291.62,176.07 288.07,182.68 295.18,182.68" fill="#25e600" stroke="#1d8406" stroke-width="0.75" stroke-linejoin="round"/>
<polygon points="170.00,176.45 166.45,183.05 173.55,183.05" fill="#25e600" stroke="#1d8406" stroke-width="0.75" stroke-linejoin="round"/>
<polygon points="192.00,177.70 188.45,184.30 195.55,184.30" fill="#25e600" stroke="#1d8406" stroke-width="0.75" stroke-linejoin="round"/>
<polygon points="104.00,178.20 100.45,184.80 107.55,184.80" fill="#25e600" stroke="#1d8406" stroke-width="0.75" stroke-linejoin="round"/>
<polygon points="229.50,178.20 225.95,184.80 233.05,184.80" fill="#25e600" stroke="#1d8406" stroke-width="0.75" stroke-linejoin="round"/>
<polygon points="124.50,178.95 120.95,185.55 128.05,185.55" fill="#25e600" stroke="#1d8406" stroke-width="0.75" stroke-linejoin="round"/>
<polygon points="216.50,180.70 212.95,187.30 220.05,187.30" fill="#25e600" stroke="#1d8406" stroke-width="0.75" stroke-linejoin="round"/>
<polygon points="175.75,181.45 172.20,188.05 179.30,188.05" fill="#25e600" stroke="#1d8406" stroke-width="0.75" stroke-linejoin="round"/>
<polygon points="204.00,181.45 200.45,188.05 207.55,188.05" fill="#25e600" stroke="#1d8406" stroke-width="0.75" stroke-linejoin="round"/>
<polygon points="246.30,181.90 242.75,188.50 249.85,188.50" fill="#25e600" stroke="#1d8406" stroke-width="0.75" stroke-linejoin="round"/>
<polygon points="245.25,183.95 241.70,190.55 248.80,190.55" fill="#25e600" stroke="#1d8406" stroke-width="0.75" stroke-linejoin="round"/>
<polygon points="159.50,184.45 155.95,191.05 163.05,191.05" fill="#25e600" stroke="#1d8406" stroke-width="0.75" stroke-linejoin="round"/>
<polygon points="182.00,185.20 178.45,191.80 185.55,191.80" fill="#25e600" stroke="#1d8406" stroke-width="0.75" stroke-linejoin="round"/>
<polygon points="203.50,185.20 199.95,191.80 207.05,191.80" fill="#25e600" stroke="#1d8406" stroke-width="0.75" stroke-linejoin="round"/>
<polygon points="195.25,186.95 191.70,193.55 198.80,193.55" fill="#25e600" stroke="#1d8406" stroke-width="0.75" stroke-linejoin="round"/>
<polygon points="150.75,187.20 147.20,193.80 154.30,193.80" fill="#25e600" stroke="#1d8406" stroke-width="0.75" stroke-linejoin="round"/>
<polygon points="184.50,187.70 180.95,194.30 188.05,194.30" fill="#25e600" stroke="#1d8406" stroke-width="0.75" stroke-linejoin="round"/>
<polygon points="230.25,188.20 226.70,194.80 233.80,194.80" fill="#25e600" stroke="#1d8406" stroke-width="0.75" stroke-linejoin="round"/>
<polygon points="98.25,188.45 94.70,195.05 101.80,195.05" fill="#25e600" stroke="#1d8406" stroke-width="0.75" stroke-linejoin="round"/>
<polygon points="255.25,190.70 251.70,197.30 258.80,197.30" fill="#25e600" stroke="#1d8406" stroke-width="0.75" stroke-linejoin="round"/>
<polygon points="163.25,191.45 159.70,198.05 166.80,198.05" fill="#25e600" stroke="#1d8406" stroke-width="0.75" stroke-linejoin="round"/>
<polygon points="199.00,191.45 195.45,198.05 202.55,198.05" fill="#25e600" stroke="#1d8406" stroke-width="0.75" stroke-linejoin="round"/>
<polygon points="112.50,192.20 108.95,198.80 116.05,198.80" fill="#25e600" stroke="#1d8406" stroke-width="0.75" stroke-linejoin="round"/>
<polygon points="218.50,192.20 214.95,198.80 222.05,198.80" fill="#25e600" stroke="#1d8406" stroke-width="0.75" stroke-linejoin="round"/>
<polygon points="160.80,192.90 157.25,199.50 164.35,199.50" fill="#25e600" stroke="#1d8406" stroke-width="0.75" stroke-linejoin="round"/>
<polygon points="149.50,193.95 145.95,200.55 153.05,200.55" fill="#25e600" stroke="#1d8406" stroke-width="0.75" stroke-linejoin="round"/>
<polygon points="203.50,193.95 199.95,200.55 207.05,200.55" fill="#25e600" stroke="#1d8406" stroke-width="0.75" stroke-linejoin="round"/>
<polygon points="250.25,193.95 246.70,200.55 253.80,200.55" fill="#25e600" stroke="#1d8406" stroke-width="0.75" stroke-linejoin="round"/>
<polygon points="182.00,194.70 178.45,201.30 185.55,201.30" fill="#25e600" stroke="#1d8406" stroke-width="0.75" stroke-linejoin="round"/>
<polygon points="96.25,195.20 92.70,201.80 99.80,201.80" fill="#25e600" stroke="#1d8406" stroke-width="0.75" stroke-linejoin="round"/>
<polygon points="236.50,195.20 232.95,201.80 240.05,201.80" fill="#25e600" stroke="#1d8406" stroke-width="0.75" stroke-linejoin="round"/>
<polygon points="314.75,195.70 311.20,202.30 318.30,202.30" fill="#25e600" stroke="#1d8406" stroke-width="0.75" stroke-linejoin="round"/>
<polygon points="193.62,195.82 190.07,202.43 197.18,202.43" fill="#25e600" stroke="#1d8406" stroke-width="0.75" stroke-linejoin="round"/>
<polygon points="82.50,197.20 78.95,203.80 86.05,203.80" fill="#25e600" stroke="#1d8406" stroke-width="0.75" stroke-linejoin="round"/>
<polygon points="158.25,197.20 154.70,203.80 161.80,203.80" fill="#25e600" stroke="#1d8406" stroke-width="0.75" stroke-linejoin="round"/>
<polygon points="147.00,197.70 143.45,204.30 150.55,204.30" fill="#25e600" stroke="#1d8406" stroke-width="0.75" stroke-linejoin="round"/>
<polygon points="252.00,197.70 248.45,204.30 255.55,204.30" fill="#25e600" stroke="#1d8406" stroke-width="0.75" stroke-linejoin="round"/>
<polygon points="88.75,198.20 85.20,204.80 92.30,204.80" fill="#25e600" stroke="#1d8406" stroke-width="0.75" stroke-linejoin="round"/>
<polygon points="221.50,198.20 217.95,204.80 225.05,204.80" fill="#25e600" stroke="#1d8406" stroke-width="0.75" stroke-linejoin="round"/>
<polygon points="178.25,198.95 174.70,205.55 181.80,205.55" fill="#25e600" stroke="#1d8406" stroke-width="0.75" stroke-linejoin="round"/>
<polygon points="199.00,198.95 195.45,205.55 202.55,205.55" fill="#25e600" stroke="#1d8406" stroke-width="0.75" stroke-linejoin="round"/>
<polygon points="195.60,199.10 192.05,205.70 199.15,205.70" fill="#25e600" stroke="#1d8406" stroke-width="0.75" stroke-linejoin="round"/>
<polygon points="183.40,199.60 179.85,206.20 186.95,206.20" fill="#25e600" stroke="#1d8406" stroke-width="0.75" stroke-linejoin="round"/>
<polygon points="187.00,200.20 183.45,206.80 190.55,206.80" fill="#25e600" stroke="#1d8406" stroke-width="0.75" stroke-linejoin="round"/>
<polygon points="107.00,202.20 103.45,208.80 110.55,208.80" fill="#25e600" stroke="#1d8406" stroke-width="0.75" stroke-linejoin="round"/>
<polygon points="143.25,203.20 139.70,209.80 146.80,209.80" fill="#25e600" stroke="#1d8406" stroke-width="0.75" stroke-linejoin="round"/>
<polygon points="134.50,203.95 130.95,210.55 138.05,210.55" fill="#25e600" stroke="#1d8406" stroke-width="0.75" stroke-linejoin="round"/>
<polygon points="182.00,203.95 178.45,210.55 185.55,210.55" fill="#25e600" stroke="#1d8406" stroke-width="0.75" stroke-linejoin="round"/>
<polygon points="149.50,204.70 145.95,211.30 153.05,211.30" fill="#25e600" stroke="#1d8406" stroke-width="0.75" stroke-linejoin="round"/>
<polygon points="211.00,205.20 207.45,211.80 214.55,211.80" fill="#25e600" stroke="#1d8406" stroke-width="0.75" stroke-linejoin="round"/>
<polygon points="222.00,205.70 218.45,212.30 225.55,212.30" fill="#25e600" stroke="#1d8406" stroke-width="0.75" stroke-linejoin="round"/>
<polygon points="232.00,205.70 228.45,212.30 235.55,212.30" fill="#25e600" stroke="#1d8406" stroke-width="0.75" stroke-linejoin="round"/>
<polygon points="127.50,206.45 123.95,213.05 131.05,213.05" fill="#25e600" stroke="#1d8406" stroke-width="0.75" stroke-linejoin="round"/>
<polygon points="193.25,206.45 189.70,213.05 196.80,213.05" fill="#25e600" stroke="#1d8406" stroke-width="0.75" stroke-linejoin="round"/>
<polygon points="187.70,207.00 184.15,213.60 191.25,213.60" fill="#25e600" stroke="#1d8406" stroke-width="0.75" stroke-linejoin="round"/>
<polygon points="159.50,207.20 155.95,213.80 163.05,213.80" fill="#25e600" stroke="#1d8406" stroke-width="0.75" stroke-linejoin="round"/>
<polygon points="179.50,207.70 175.95,214.30 183.05,214.30" fill="#25e600" stroke="#1d8406" stroke-width="0.75" stroke-linejoin="round"/>
<polygon points="251.00,208.20 247.45,214.80 254.55,214.80" fill="#25e600" stroke="#1d8406" stroke-width="0.75" stroke-linejoin="round"/>
<polygon points="159.00,211.45 155.45,218.05 162.55,218.05" fill="#25e600" stroke="#1d8406" stroke-width="0.75" stroke-linejoin="round"/>
<polygon points="206.50,211.45 202.95,218.05 210.05,218.05" fill="#25e600" stroke="#1d8406" stroke-width="0.75" stroke-linejoin="round"/>
<polygon points="175.90,211.90 172.35,218.50 179.45,218.50" fill="#25e600" stroke="#1d8406" stroke-width="0.75" stroke-linejoin="round"/>
<polygon points="129.00,211.95 125.45,218.55 132.55,218.55" fill="#25e600" stroke="#1d8406" stroke-width="0.75" stroke-linejoin="round"/>
<polygon points="170.75,212.20 167.20,218.80 174.30,218.80" fill="#25e600" stroke="#1d8406" stroke-width="0.75" stroke-linejoin="round"/>
<polygon points="179.70,212.60 176.15,219.20 183.25,219.20" fill="#25e600" stroke="#1d8406" stroke-width="0.75" stroke-linejoin="round"/>
<polygon points="183.25,212.70 179.70,219.30 186.80,219.30" fill="#25e600" stroke="#1d8406" stroke-width="0.75" stroke-linejoin="round"/>
<polygon points="192.75,213.32 189.20,219.93 196.30,219.93" fill="#25e600" stroke="#1d8406" stroke-width="0.75" stroke-linejoin="round"/>
<polygon points="230.25,213.95 226.70,220.55 233.80,220.55" fill="#25e600" stroke="#1d8406" stroke-width="0.75" stroke-linejoin="round"/>
<polygon points="246.00,214.70 242.45,221.30 249.55,221.30" fill="#25e600" stroke="#1d8406" stroke-width="0.75" stroke-linejoin="round"/>
<polygon points="113.25,215.20 109.70,221.80 116.80,221.80" fill="#25e600" stroke="#1d8406" stroke-width="0.75" stroke-linejoin="round"/>
<polygon points="148.75,215.20 145.20,221.80 152.30,221.80" fill="#25e600" stroke="#1d8406" stroke-width="0.75" stroke-linejoin="round"/>
<polygon points="207.20,216.30 203.65,222.90 210.75,222.90" fill="#25e600" stroke="#1d8406" stroke-width="0.75" stroke-linejoin="round"/>
<polygon points="138.25,216.45 134.70,223.05 141.80,223.05" fill="#25e600" stroke="#1d8406" stroke-width="0.75" stroke-linejoin="round"/>
<polygon points="214.30,217.50 210.75,224.10 217.85,224.10" fill="#25e600" stroke="#1d8406" stroke-width="0.75" stroke-linejoin="round"/>
<polygon points="188.30,218.10 184.75,224.70 191.85,224.70" fill="#25e600" stroke="#1d8406" stroke-width="0.75" stroke-linejoin="round"/>
<polygon points="180.90,219.40 177.35,226.00 184.45,226.00" fill="#25e600" stroke="#1d8406" stroke-width="0.75" stroke-linejoin="round"/>
<polygon points="148.25,221.45 144.70,228.05 151.80,228.05" fill="#25e600" stroke="#1d8406" stroke-width="0.75" stroke-linejoin="round"/>
<polygon points="164.50,221.45 160.95,228.05 168.05,228.05" fill="#25e600" stroke="#1d8406" stroke-width="0.75" stroke-linejoin="round"/>
<polygon points="212.75,221.45 209.20,228.05 216.30,228.05" fill="#25e600" stroke="#1d8406" stroke-width="0.75" stroke-linejoin="round"/>
<polygon points="222.75,221.95 219.20,228.55 226.30,228.55" fill="#25e600" stroke="#1d8406" stroke-width="0.75" stroke-linejoin="round"/>
<polygon points="277.25,221.95 273.70,228.55 280.80,228.55" fill="#25e600" stroke="#1d8406" stroke-width="0.75" stroke-linejoin="round"/>
<polygon points="160.50,222.50 156.95,229.10 164.05,229.10" fill="#25e600" stroke="#1d8406" stroke-width="0.75" stroke-linejoin="round"/>
<polygon points="151.60,222.70 148.05,229.30 155.15,229.30" fill="#25e600" stroke="#1d8406" stroke-width="0.75" stroke-linejoin="round"/>
<polygon points="172.00,222.70 168.45,229.30 175.55,229.30" fill="#25e600" stroke="#1d8406" stroke-width="0.75" stroke-linejoin="round"/>
<polygon points="189.50,222.70 185.95,229.30 193.05,229.30" fill="#25e600" stroke="#1d8406" stroke-width="0.75" stroke-linejoin="round"/>
<polygon points="229.00,222.70 225.45,229.30 232.55,229.30" fill="#25e600" stroke="#1d8406" stroke-width="0.75" stroke-linejoin="round"/>
<polygon points="241.50,223.20 237.95,229.80 245.05,229.80" fill="#25e600" stroke="#1d8406" stroke-width="0.75" stroke-linejoin="round"/>
<polygon points="202.00,223.95 198.45,230.55 205.55,230.55" fill="#25e600" stroke="#1d8406" stroke-width="0.75" stroke-linejoin="round"/>
<polygon points="293.00,223.95 289.45,230.55 296.55,230.55" fill="#25e600" stroke="#1d8406" stroke-width="0.75" stroke-linejoin="round"/>
<polygon points="74.25,225.20 70.70,231.80 77.80,231.80" fill="#25e600" stroke="#1d8406" stroke-width="0.75" stroke-linejoin="round"/>
<polygon points="130.25,225.20 126.70,231.80 133.80,231.80" fill="#25e600" stroke="#1d8406" stroke-width="0.75" stroke-linejoin="round"/>
<polygon points="144.50,225.20 140.95,231.80 148.05,231.80" fill="#25e600" stroke="#1d8406" stroke-width="0.75" stroke-linejoin="round"/>
<polygon points="177.40,225.20 173.85,231.80 180.95,231.80" fill="#25e600" stroke="#1d8406" stroke-width="0.75" stroke-linejoin="round"/>
<polygon points="100.75,226.45 97.20,233.05 104.30,233.05" fill="#25e600" stroke="#1d8406" stroke-width="0.75" stroke-linejoin="round"/>
<polygon points="136.50,226.45 132.95,233.05 140.05,233.05" fill="#25e600" stroke="#1d8406" stroke-width="0.75" stroke-linejoin="round"/>
<polygon points="222.75,226.45 219.20,233.05 226.30,233.05" fill="#25e600" stroke="#1d8406" stroke-width="0.75" stroke-linejoin="round"/>
<polygon points="163.60,226.80 160.05,233.40 167.15,233.40" fill="#25e600" stroke="#1d8406" stroke-width="0.75" stroke-linejoin="round"/>
<polygon points="183.25,227.70 179.70,234.30 186.80,234.30" fill="#25e600" stroke="#1d8406" stroke-width="0.75" stroke-linejoin="round"/>
<polygon points="75.00,228.20 71.45,234.80 78.55,234.80" fill="#25e600" stroke="#1d8406" stroke-width="0.75" stroke-linejoin="round"/>
<polygon points="211.00,228.95 207.45,235.55 214.55,235.55" fill="#25e600" stroke="#1d8406" stroke-width="0.75" stroke-linejoin="round"/>
<polygon points="254.00,229.70 250.45,236.30 257.55,236.30" fill="#25e600" stroke="#1d8406" stroke-width="0.75" stroke-linejoin="round"/>
<polygon points="139.50,230.20 135.95,236.80 143.05,236.80" fill="#25e600" stroke="#1d8406" stroke-width="0.75" stroke-linejoin="round"/>
<polygon points="283.50,230.20 279.95,236.80 287.05,236.80" fill="#25e600" stroke="#1d8406" stroke-width="0.75" stroke-linejoin="round"/>
<polygon points="191.40,230.50 187.85,237.10 194.95,237.10" fill="#25e600" stroke="#1d8406" stroke-width="0.75" stroke-linejoin="round"/>
<polygon points="156.80,231.10 153.25,237.70 160.35,237.70" fill="#25e600" stroke="#1d8406" stroke-width="0.75" stroke-linejoin="round"/>
<polygon points="107.50,232.20 103.95,238.80 111.05,238.80" fill="#25e600" stroke="#1d8406" stroke-width="0.75" stroke-linejoin="round"/>
<polygon points="247.75,232.20 244.20,238.80 251.30,238.80" fill="#25e600" stroke="#1d8406" stroke-width="0.75" stroke-linejoin="round"/>
<polygon points="173.25,232.70 169.70,239.30 176.80,239.30" fill="#25e600" stroke="#1d8406" stroke-width="0.75" stroke-linejoin="round"/>
<polygon points="149.30,233.00 145.75,239.60 152.85,239.60" fill="#25e600" stroke="#1d8406" stroke-width="0.75" stroke-linejoin="round"/>
<polygon points="220.25,233.20 216.70,239.80 223.80,239.80" fill="#25e600" stroke="#1d8406" stroke-width="0.75" stroke-linejoin="round"/>
<polygon points="145.75,233.45 142.20,240.05 149.30,240.05" fill="#25e600" stroke="#1d8406" stroke-width="0.75" stroke-linejoin="round"/>
<polygon points="134.50,233.95 130.95,240.55 138.05,240.55" fill="#25e600" stroke="#1d8406" stroke-width="0.75" stroke-linejoin="round"/>
<polygon points="269.00,234.45 265.45,241.05 272.55,241.05" fill="#25e600" stroke="#1d8406" stroke-width="0.75" stroke-linejoin="round"/>
<polygon points="115.75,235.20 112.20,241.80 119.30,241.80" fill="#25e600" stroke="#1d8406" stroke-width="0.75" stroke-linejoin="round"/>
<polygon points="192.00,235.20 188.45,241.80 195.55,241.80" fill="#25e600" stroke="#1d8406" stroke-width="0.75" stroke-linejoin="round"/>
<polygon points="214.00,235.20 210.45,241.80 217.55,241.80" fill="#25e600" stroke="#1d8406" stroke-width="0.75" stroke-linejoin="round"/>
<polygon points="224.00,235.20 220.45,241.80 227.55,241.80" fill="#25e600" stroke="#1d8406" stroke-width="0.75" stroke-linejoin="round"/>
<polygon points="164.50,236.45 160.95,243.05 168.05,243.05" fill="#25e600" stroke="#1d8406" stroke-width="0.75" stroke-linejoin="round"/>
<polygon points="173.25,237.20 169.70,243.80 176.80,243.80" fill="#25e600" stroke="#1d8406" stroke-width="0.75" stroke-linejoin="round"/>
<polygon points="167.75,237.70 164.20,244.30 171.30,244.30" fill="#25e600" stroke="#1d8406" stroke-width="0.75" stroke-linejoin="round"/>
<polygon points="221.50,239.70 217.95,246.30 225.05,246.30" fill="#25e600" stroke="#1d8406" stroke-width="0.75" stroke-linejoin="round"/>
<polygon points="77.50,240.20 73.95,246.80 81.05,246.80" fill="#25e600" stroke="#1d8406" stroke-width="0.75" stroke-linejoin="round"/>
<polygon points="160.75,240.20 157.20,246.80 164.30,246.80" fill="#25e600" stroke="#1d8406" stroke-width="0.75" stroke-linejoin="round"/>
<polygon points="106.50,241.60 102.95,248.20 110.05,248.20" fill="#25e600" stroke="#1d8406" stroke-width="0.75" stroke-linejoin="round"/>
<polygon points="131.90,242.00 128.35,248.60 135.45,248.60" fill="#25e600" stroke="#1d8406" stroke-width="0.75" stroke-linejoin="round"/>
<polygon points="96.25,242.70 92.70,249.30 99.80,249.30" fill="#25e600" stroke="#1d8406" stroke-width="0.75" stroke-linejoin="round"/>
<polygon points="178.25,242.70 174.70,249.30 181.80,249.30" fill="#25e600" stroke="#1d8406" stroke-width="0.75" stroke-linejoin="round"/>
<polygon points="62.50,243.20 58.95,249.80 66.05,249.80" fill="#25e600" stroke="#1d8406" stroke-width="0.75" stroke-linejoin="round"/>
<polygon points="138.25,243.20 134.70,249.80 141.80,249.80" fill="#25e600" stroke="#1d8406" stroke-width="0.75" stroke-linejoin="round"/>
<polygon points="90.00,243.95 86.45,250.55 93.55,250.55" fill="#25e600" stroke="#1d8406" stroke-width="0.75" stroke-linejoin="round"/>
<polygon points="76.25,245.95 72.70,252.55 79.80,252.55" fill="#25e600" stroke="#1d8406" stroke-width="0.75" stroke-linejoin="round"/>
<polygon points="163.25,245.95 159.70,252.55 166.80,252.55" fill="#25e600" stroke="#1d8406" stroke-width="0.75" stroke-linejoin="round"/>
<polygon points="128.80,246.30 125.25,252.90 132.35,252.90" fill="#25e600" stroke="#1d8406" stroke-width="0.75" stroke-linejoin="round"/>
<polygon points="112.00,247.20 108.45,253.80 115.55,253.80" fill="#25e600" stroke="#1d8406" stroke-width="0.75" stroke-linejoin="round"/>
<polygon points="123.25,247.20 119.70,253.80 126.80,253.80" fill="#25e600" stroke="#1d8406" stroke-width="0.75" stroke-linejoin="round"/>
<polygon points="152.50,247.20 148.95,253.80 156.05,253.80" fill="#25e600" stroke="#1d8406" stroke-width="0.75" stroke-linejoin="round"/>
<polygon points="95.00,247.70 91.45,254.30 98.55,254.30" fill="#25e600" stroke="#1d8406" stroke-width="0.75" stroke-linejoin="round"/>
<polygon points="120.10,247.80 116.55,254.40 123.65,254.40" fill="#25e600" stroke="#1d8406" stroke-width="0.75" stroke-linejoin="round"/>
<polygon points="98.30,248.30 94.75,254.90 101.85,254.90" fill="#25e600" stroke="#1d8406" stroke-width="0.75" stroke-linejoin="round"/>
<polygon points="138.25,248.45 134.70,255.05 141.80,255.05" fill="#25e600" stroke="#1d8406" stroke-width="0.75" stroke-linejoin="round"/>
<polygon points="105.75,249.20 102.20,255.80 109.30,255.80" fill="#25e600" stroke="#1d8406" stroke-width="0.75" stroke-linejoin="round"/>
<polygon points="116.40,249.40 112.85,256.00 119.95,256.00" fill="#25e600" stroke="#1d8406" stroke-width="0.75" stroke-linejoin="round"/>
<polygon points="80.00,250.95 76.45,257.55 83.55,257.55" fill="#25e600" stroke="#1d8406" stroke-width="0.75" stroke-linejoin="round"/>
<polygon points="103.40,251.90 99.85,258.50 106.95,258.50" fill="#25e600" stroke="#1d8406" stroke-width="0.75" stroke-linejoin="round"/>
<polygon points="87.50,252.70 83.95,259.30 91.05,259.30" fill="#25e600" stroke="#1d8406" stroke-width="0.75" stroke-linejoin="round"/>
<polygon points="174.50,252.70 170.95,259.30 178.05,259.30" fill="#25e600" stroke="#1d8406" stroke-width="0.75" stroke-linejoin="round"/>
<polygon points="193.25,253.45 189.70,260.05 196.80,260.05" fill="#25e600" stroke="#1d8406" stroke-width="0.75" stroke-linejoin="round"/>
<polygon points="80.80,254.00 77.25,260.60 84.35,260.60" fill="#25e600" stroke="#1d8406" stroke-width="0.75" stroke-linejoin="round"/>
<polygon points="119.50,254.70 115.95,261.30 123.05,261.30" fill="#25e600" stroke="#1d8406" stroke-width="0.75" stroke-linejoin="round"/>
<polygon points="138.25,255.20 134.70,261.80 141.80,261.80" fill="#25e600" stroke="#1d8406" stroke-width="0.75" stroke-linejoin="round"/>
<polygon points="73.75,255.95 70.20,262.55 77.30,262.55" fill="#25e600" stroke="#1d8406" stroke-width="0.75" stroke-linejoin="round"/>
<polygon points="236.00,255.95 232.45,262.55 239.55,262.55" fill="#25e600" stroke="#1d8406" stroke-width="0.75" stroke-linejoin="round"/>
<polygon points="111.30,256.20 107.75,262.80 114.85,262.80" fill="#25e600" stroke="#1d8406" stroke-width="0.75" stroke-linejoin="round"/>
<polygon points="115.20,256.80 111.65,263.40 118.75,263.40" fill="#25e600" stroke="#1d8406" stroke-width="0.75" stroke-linejoin="round"/>
<polygon points="98.25,260.95 94.70,267.55 101.80,267.55" fill="#25e600" stroke="#1d8406" stroke-width="0.75" stroke-linejoin="round"/>
<polygon points="121.50,260.95 117.95,267.55 125.05,267.55" fill="#25e600" stroke="#1d8406" stroke-width="0.75" stroke-linejoin="round"/>
<polygon points="144.50,261.70 140.95,268.30 148.05,268.30" fill="#25e600" stroke="#1d8406" stroke-width="0.75" stroke-linejoin="round"/>
<polygon points="90.50,264.20 86.95,270.80 94.05,270.80" fill="#25e600" stroke="#1d8406" stroke-width="0.75" stroke-linejoin="round"/>
<polygon points="80.75,265.95 77.20,272.55 84.30,272.55" fill="#25e600" stroke="#1d8406" stroke-width="0.75" stroke-linejoin="round"/>
<polygon points="115.75,265.95 112.20,272.55 119.30,272.55" fill="#25e600" stroke="#1d8406" stroke-width="0.75" stroke-linejoin="round"/>
<polygon points="134.00,266.70 130.45,273.30 137.55,273.30" fill="#25e600" stroke="#1d8406" stroke-width="0.75" stroke-linejoin="round"/>
<polygon points="59.25,267.20 55.70,273.80 62.80,273.80" fill="#25e600" stroke="#1d8406" stroke-width="0.75" stroke-linejoin="round"/>
<polygon points="120.00,267.20 116.45,273.80 123.55,273.80" fill="#25e600" stroke="#1d8406" stroke-width="0.75" stroke-linejoin="round"/>
<polygon points="70.75,267.70 67.20,274.30 74.30,274.30" fill="#25e600" stroke="#1d8406" stroke-width="0.75" stroke-linejoin="round"/>
<polygon points="95.00,268.95 91.45,275.55 98.55,275.55" fill="#25e600" stroke="#1d8406" stroke-width="0.75" stroke-linejoin="round"/>
<polygon points="65.75,269.70 62.20,276.30 69.30,276.30" fill="#25e600" stroke="#1d8406" stroke-width="0.75" stroke-linejoin="round"/>
<polygon points="68.75,271.70 65.20,278.30 72.30,278.30" fill="#25e600" stroke="#1d8406" stroke-width="0.75" stroke-linejoin="round"/>
<polygon points="65.75,281.70 62.20,288.30 69.30,288.30" fill="#25e600" stroke="#1d8406" stroke-width="0.75" stroke-linejoin="round"/>
<rect x="151.5" y="22" width="107.30" height="70.50" rx="9" ry="9" fill="rgba(245,135,62,0.07)" stroke="#f5822f" stroke-width="1.8"/>
<rect x="153.3" y="221.5" width="106.00" height="70.80" rx="9" ry="9" fill="rgba(245,135,62,0.07)" stroke="#f5822f" stroke-width="1.8"/>
<rect x="284" y="20.8" width="79.50" height="72.20" rx="10" ry="10" fill="rgba(120,185,240,0.07)" stroke="#174797" stroke-width="1.4"/>
<rect x="48.4" y="222.3" width="78.60" height="70.10" rx="10" ry="10" fill="rgba(120,185,240,0.07)" stroke="#174797" stroke-width="1.4"/>
<rect x="47.5" y="110" width="79.80" height="92.00" rx="11" ry="11" fill="rgba(185,225,105,0.07)" stroke="#7fee18" stroke-width="1.7"/>
<rect x="284.6" y="114.1" width="79.70" height="92.10" rx="11" ry="11" fill="rgba(185,225,105,0.07)" stroke="#7fee18" stroke-width="1.7"/>
<text x="34.9" y="24.10" text-anchor="end" font-family="Liberation Serif, serif" font-weight="bold" font-size="12" fill="#0a0a0a" stroke="#0a0a0a" stroke-width="0.25">1</text>
<text x="35.8" y="93.10" text-anchor="end" font-family="Liberation Serif, serif" font-weight="bold" font-size="12" fill="#0a0a0a" stroke="#0a0a0a" stroke-width="0.25">0,5</text>
<text x="35.8" y="162.10" text-anchor="end" font-family="Liberation Serif, serif" font-weight="bold" font-size="12" fill="#0a0a0a" stroke="#0a0a0a" stroke-width="0.25">0</text>
<text x="35.8" y="231.10" text-anchor="end" font-family="Liberation Serif, serif" font-weight="bold" font-size="12" fill="#0a0a0a" stroke="#0a0a0a" stroke-width="0.25">-0,5</text>
<text x="34.599999999999994" y="300.10" text-anchor="end" font-family="Liberation Serif, serif" font-weight="bold" font-size="12" fill="#0a0a0a" stroke="#0a0a0a" stroke-width="0.25">-1</text>
<text x="369.50" y="312.3" text-anchor="middle" font-family="Liberation Serif, serif" font-weight="bold" font-size="12" fill="#0a0a0a" stroke="#0a0a0a" stroke-width="0.25">1</text>
<text x="287.38" y="312.3" text-anchor="middle" font-family="Liberation Serif, serif" font-weight="bold" font-size="12" fill="#0a0a0a" stroke="#0a0a0a" stroke-width="0.25">0,5</text>
<text x="205.25" y="312.3" text-anchor="middle" font-family="Liberation Serif, serif" font-weight="bold" font-size="12" fill="#0a0a0a" stroke="#0a0a0a" stroke-width="0.25">0</text>
<text x="123.12" y="312.3" text-anchor="middle" font-family="Liberation Serif, serif" font-weight="bold" font-size="12" fill="#0a0a0a" stroke="#0a0a0a" stroke-width="0.25">-0,5</text>
<text x="41.00" y="312.3" text-anchor="middle" font-family="Liberation Serif, serif" font-weight="bold" font-size="12" fill="#0a0a0a" stroke="#0a0a0a" stroke-width="0.25">-1</text>
<text x="211.1" y="326.6" text-anchor="middle" font-family="Liberation Serif, serif" font-weight="bold" font-size="12" fill="#0a0a0a" stroke="#0a0a0a" stroke-width="0.25">p(corr)[Healthy vs Smoker]</text>
<text transform="translate(10.5,154.3) rotate(-90)" text-anchor="middle" font-family="Liberation Serif, serif" font-weight="bold" font-size="12" fill="#0a0a0a" stroke="#0a0a0a" stroke-width="0.25">p(corr)[Healthy vs COPD]</text>
</svg></body></html>
